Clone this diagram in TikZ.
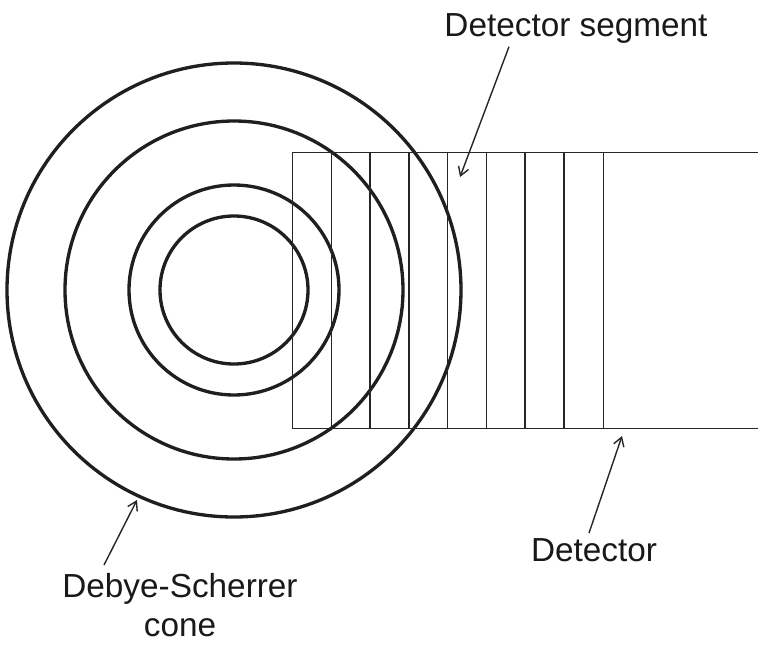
\documentclass[tikz,border=0pt]{standalone}
\usepackage{fontspec}
\setmainfont{Liberation Sans}
\usetikzlibrary{arrows.meta}
\tikzstyle{every node}=[font=\fontsize{25pt}{29.25pt}\selectfont, inner sep=0pt, text=black!90]
\tikzstyle{ring}=[line width=2.5pt, black!88]
\tikzstyle{thinline}=[line width=0.7pt, black!85]
\tikzstyle{thickline}=[line width=1.2pt, black!85]
\tikzstyle{pointer}=[line width=1.05pt, black!85, -{Straight Barb[length=6.5pt, width=8pt]}]

\begin{document}
\begin{tikzpicture}[x=0.75pt, y=-0.75pt]
  \useasboundingbox (0,0) rectangle (758,672);
  % rings
  \foreach \rad in {227,169,105,74}
     \draw[ring] (234,290) circle (\rad*0.75pt);
  % detector strip
  \draw[thinline] (758,152) -- (292,152) -- (292,428) -- (758,428);
  \foreach \xpos in {331,447,486,603}
     \draw[thinline] (\xpos,152) -- (\xpos,428);
  \foreach \xpos in {370,409,525,564}
     \draw[thickline] (\xpos,152) -- (\xpos,428);
  % labels
  \node (seglabel) at (576,28) {Detector segment};
  \node (detlabel) at (594,550) {Detector};
  \node[align=center] (conelabel) at (180,605) {Debye-Scherrer\\cone};
  \coordinate (segtip) at (460,177);
  \coordinate (dettip) at (622,436);
  \coordinate (conetip) at (137,500);
  % arrows
  \draw[pointer] ([shift={(-67,3.5)}]seglabel.south) -- (segtip);
  \draw[pointer] ([shift={(-5,-5)}]detlabel.north) -- (dettip);
  \draw[pointer] ([shift={(-76,-8)}]conelabel.north) -- (conetip);
\end{tikzpicture}
\end{document}
